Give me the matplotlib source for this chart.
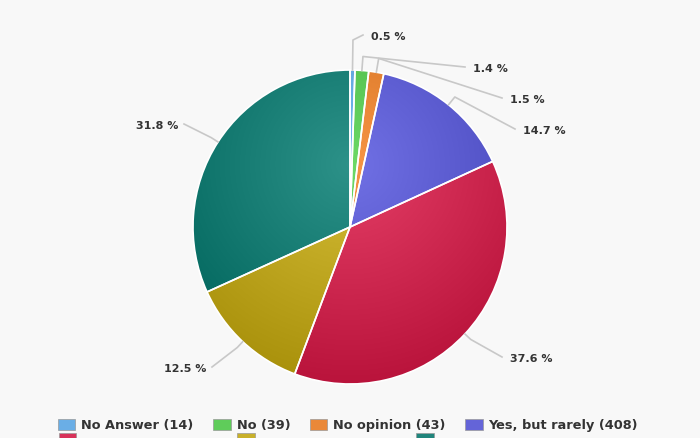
import matplotlib.pyplot as plt
import numpy as np
from matplotlib.colors import to_rgb

# data
labels = ["No Answer", "No", "No opinion", "Yes, but rarely",
          "Yes, frequently", "Yes, sometimes", "Yes, daily"]
counts = [14, 39, 43, 408, 1044, 347, 883]
pct_text = ["0.5 %", "1.4 %", "1.5 %", "14.7 %", "37.6 %", "12.5 %", "31.8 %"]
colors = ["#6aaee6", "#5fcc5a", "#ea8838", "#6464d8", "#d8325a", "#c8b02a", "#20857c"]

W, H = 700, 438
cx, cy, R = 350, 227, 157

# label placement (pixels): text x, text y, align, radial elbow length
lab_pos = [(371, 37, "left", 30), (473, 69, "left", 14), (510, 100, "left", 14),
           (523, 131, "left", 10), (510, 359, "left", 8), (206, 369, "right", 8),
           (178, 126, "right", 8)]


def Y(y):
    return H - y


fig = plt.figure(figsize=(7, 4.38), dpi=100, facecolor="#f8f8f8")
ax = fig.add_axes([0, 0, 1, 1])

wedges, _ = ax.pie(counts, colors=colors, startangle=90, counterclock=False,
                   center=(cx, Y(cy)), radius=R, frame=True,
                   wedgeprops=dict(edgecolor="white", linewidth=1.2))
ax.set_aspect("equal")
ax.axis("off")

# radial shading, lighter at upper centre, darker at the rim
gx, gy = np.meshgrid(np.linspace(cx - R, cx + R, 320), np.linspace(Y(cy) - R, Y(cy) + R, 320))
gcx, gcy, gr = cx, Y(cy - R) - 0.3 * 2 * R, 0.7 * 2 * R
t = np.clip(np.hypot(gx - gcx, gy - gcy) / gr, 0, 1)
for w, c in zip(wedges, colors):
    base = np.array(to_rgb(c))
    img = np.clip(base[None, None, :] + 0.05 - 0.17 * t[..., None], 0, 1)
    im = ax.imshow(img, extent=(cx - R, cx + R, Y(cy) - R, Y(cy) + R),
                   origin="lower", zorder=w.get_zorder() + 0.1, interpolation="bilinear")
    im.set_clip_path(w)
    w.set_zorder(w.get_zorder() + 0.2)
    w.set_facecolor("none")
ax.set_xlim(0, W)
ax.set_ylim(0, H)

total = sum(counts)
start = 0.0
for i, n in enumerate(counts):
    mid = (start + n / 2) / total * 2 * np.pi
    start += n
    ex, ey = cx + R * np.sin(mid), cy - R * np.cos(mid)
    tx, ty, ha, el = lab_pos[i]
    bx, by = cx + (R + el) * np.sin(mid), cy - (R + el) * np.cos(mid)
    lx = tx - 8 if ha == "left" else tx + 6
    ax.plot([ex, bx, lx], [Y(ey), Y(by), Y(ty - 2)], color="#c8c8c8", lw=1.2,
            solid_joinstyle="round", zorder=5)
    ax.text(tx, Y(ty), pct_text[i], ha=ha, va="center", fontsize=8,
            fontweight="bold", color="#333333", zorder=6)

# legend, first row
h1 = [plt.Rectangle((0, 0), 1, 1, fc=c, ec="#999999", lw=0.5) for c in colors[:4]]
fig.legend(h1, [f"{l} ({n})" for l, n in zip(labels[:4], counts[:4])],
           loc="upper left", bbox_to_anchor=(46 / W, 1 - 407 / H), ncol=4,
           frameon=False, prop=dict(size=9.3, weight="bold"), handlelength=1.38,
           handleheight=0.9, handletextpad=0.45, columnspacing=1.5,
           labelcolor="#333333")
# second row is cut by the bottom edge, only the swatch tops show
h2 = [plt.Rectangle((0, 0), 1, 1, fc=c, ec="#999999", lw=0.5) for c in colors[4:]]
fig.legend(h2, ["", "", ""], loc="upper left", bbox_to_anchor=(47 / W, 1 - 421 / H),
           ncol=3, frameon=False, prop=dict(size=9.3, weight="bold"),
           handlelength=1.38, handleheight=0.9, handletextpad=0.45,
           columnspacing=12.0)

fig.savefig("out.png", dpi=100, facecolor=fig.get_facecolor())
